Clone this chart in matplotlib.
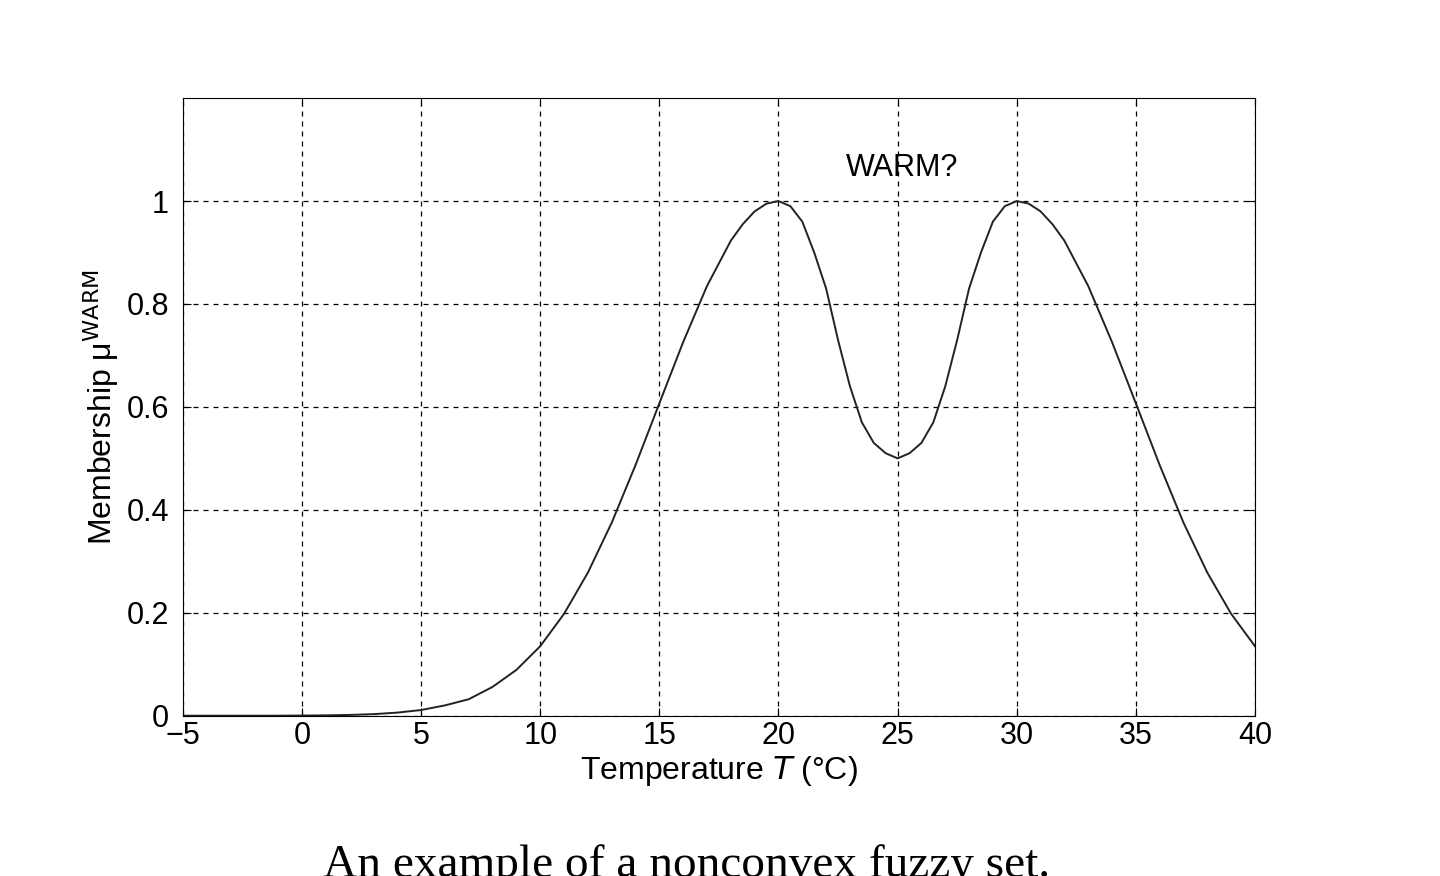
import matplotlib.pyplot as plt

plt.rcParams['font.family'] = ['Liberation Sans', 'DejaVu Sans']

temps = [-5, -4, -3, -2, -1, 0, 1, 2, 3, 4, 5, 6, 7, 8, 9, 10, 11, 12, 13,
         14, 15, 16, 17, 18, 18.5, 19, 19.5, 20, 20.5, 21, 21.5, 22, 22.5,
         23, 23.5, 24, 24.5, 25, 25.5, 26, 26.5, 27, 27.5, 28, 28.5, 29,
         29.5, 30, 30.5, 31, 31.5, 32, 33, 34, 35, 36, 37, 38, 39, 40]
member = [0, 0, 0, 0, 0, 0.0003, 0.0007, 0.0015, 0.003, 0.006, 0.011,
          0.020, 0.032, 0.056, 0.089, 0.135, 0.198, 0.278, 0.375, 0.487,
          0.607, 0.726, 0.835, 0.923, 0.955, 0.980, 0.995, 1.0, 0.99, 0.96,
          0.90, 0.83, 0.73, 0.64, 0.57, 0.53, 0.51, 0.50, 0.51, 0.53, 0.57,
          0.64, 0.73, 0.83, 0.90, 0.96, 0.99, 1.0, 0.995, 0.980, 0.955,
          0.923, 0.835, 0.726, 0.607, 0.487, 0.375, 0.278, 0.198, 0.135]
xticks = list(range(-5, 41, 5))
yticks = [0, 0.2, 0.4, 0.6, 0.8, 1]
ytick_labels = ['0', '0.2', '0.4', '0.6', '0.8', '1']

fig = plt.figure(figsize=(14.4, 8.76), dpi=100)
ax = fig.add_axes([0.127, 0.183, 0.7445, 0.705])
ax.plot(temps, member, color='#222222', lw=1.4)
ax.set_xlim(-5, 40)
ax.set_ylim(0, 1.2)
ax.set_xticks(xticks)
ax.set_xticklabels(['\u22125' if t == -5 else str(t) for t in xticks])
ax.set_yticks(yticks)
ax.set_yticklabels(ytick_labels)
ax.tick_params(direction='in', labelsize=22, top=True, right=True, length=6)
ax.tick_params(axis='y', pad=10)
ax.tick_params(axis='x', pad=4)
ax.grid(True, color='black', linestyle=(0, (4, 4)), lw=0.9)
ax.set_xlabel('Temperature $\\it{T}$ (°C)', fontsize=23, labelpad=2)
ax.set_ylabel('Membership \u03bc$^{\\mathrm{WARM}}$', fontsize=23, labelpad=4)
ax.text(25.2, 1.065, 'WARM?', fontsize=22, ha='center', va='center')

fig.text(0.477, -0.012, 'An example of a nonconvex fuzzy set.', fontsize=34,
         family='Liberation Serif', ha='center', va='bottom')

fig.savefig('out.png', dpi=100)
